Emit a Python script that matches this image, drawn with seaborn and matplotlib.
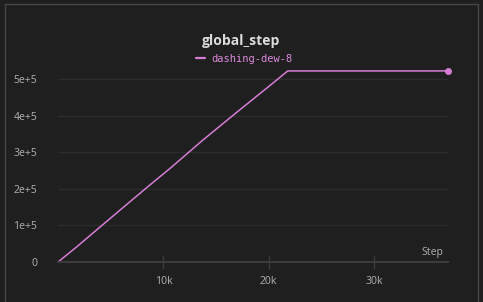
import matplotlib
matplotlib.use("Agg")
import matplotlib.pyplot as plt
import seaborn as sns
import pandas as pd
from matplotlib.patches import Rectangle
from matplotlib.lines import Line2D

# data
steps = [0, 1800, 4170, 6800, 8700, 10600, 13700, 17000, 20100, 21800, 37000]
values = [0, 42000, 100000, 164000, 210000, 255000, 332000, 410000, 482000, 522000, 522000]
run_name = "dashing-dew-8"
title = "global_step"
x_ticks = [10000, 20000, 30000]
x_tick_labels = ["10k", "20k", "30k"]
y_ticks = [0, 100000, 200000, 300000, 400000, 500000]
y_tick_labels = ["0", "1e+5", "2e+5", "3e+5", "4e+5", "5e+5"]

df = pd.DataFrame({"Step": steps, "global_step": values})

BG = "#1f1f1f"
LINE = "#d57dd5"
TXT = "#a9a9a9"
GRID = "#2c2c2c"
AXIS = "#3b3b3b"

sns.set_theme(style="dark")
plt.rcParams["font.family"] = ["Noto Sans", "DejaVu Sans"]

W, H = 483, 302
fig = plt.figure(figsize=(W / 100, H / 100), dpi=100, facecolor=BG)
ax_l, ax_r, ax_b, ax_t = 58, 448, 262, 68
ax = fig.add_axes([ax_l / W, 1 - ax_b / H, (ax_r - ax_l) / W, (ax_b - ax_t) / H])
ax.set_facecolor(BG)

sns.lineplot(data=df, x="Step", y="global_step", ax=ax, color=LINE, linewidth=1.1)
ax.plot(steps[-1:], values[-1:], "o", color=LINE, markersize=4, clip_on=False)

ax.set_xlim(0, 37000)
ax.set_ylim(0, 530000)
ax.set_xticks(x_ticks)
ax.set_xticklabels(x_tick_labels)
ax.set_yticks(y_ticks)
ax.set_yticklabels(y_tick_labels)
ax.set_xlabel("")
ax.set_ylabel("")
for s in ["top", "right", "left"]:
    ax.spines[s].set_visible(False)
ax.spines["bottom"].set_color(AXIS)
ax.spines["bottom"].set_linewidth(1.5)
ax.grid(axis="y", color=GRID, linewidth=1)
ax.grid(axis="x", visible=False)
ax.tick_params(axis="x", colors=TXT, labelsize=7.5, direction="inout", length=10, width=1, color=AXIS, pad=5, bottom=True)
ax.tick_params(axis="y", colors=TXT, labelsize=7.5, length=0, pad=15)
for lbl in ax.get_yticklabels() + ax.get_xticklabels():
    lbl.set_color(TXT)

fig.text(432 / W, 1 - 252 / H, "Step", color=TXT, fontsize=7.5, ha="center", va="center")
fig.text(241 / W, 1 - 41 / H, title, color="#dcdcdc", fontsize=10, fontweight="bold",
         family=["Open Sans", "DejaVu Sans"], ha="center", va="center")

# legend
fig.add_artist(Line2D([196 / W, 205 / W], [1 - 58 / H, 1 - 58 / H], color=LINE, linewidth=1.6))
fig.text(211 / W, 1 - 58.5 / H, run_name, color="#dc8adc", fontsize=7.5, family=["DejaVu Sans Mono"], ha="left", va="center")

# panel frame
fig.add_artist(Rectangle((5 / W, -0.05), (478 - 5) / W, 1.05 - 4 / H, transform=fig.transFigure,
                         fill=False, edgecolor="#474747", linewidth=1))

fig.savefig("out.png", dpi=100, facecolor=BG)
